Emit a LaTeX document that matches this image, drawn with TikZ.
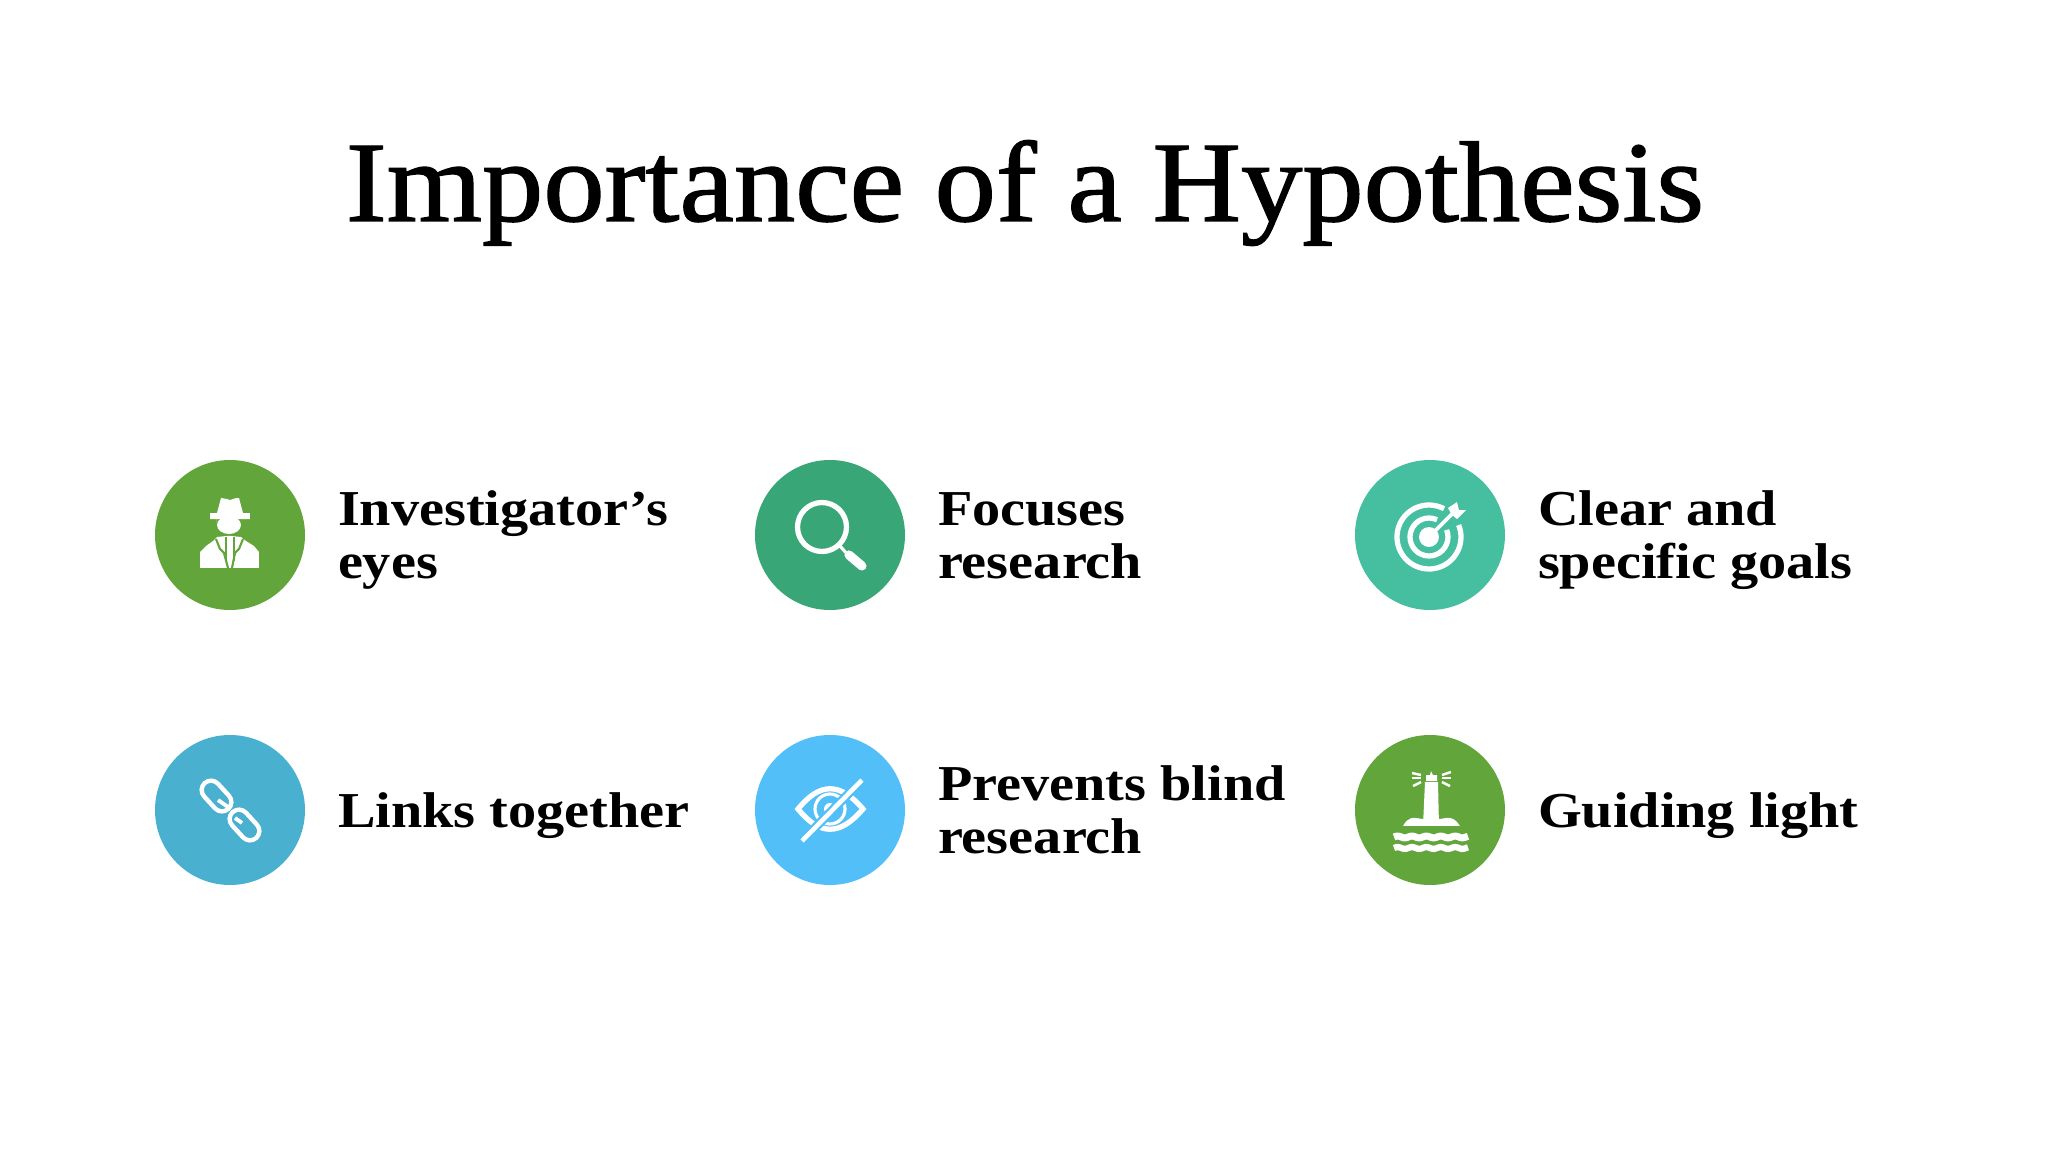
\documentclass[tikz,border=0pt]{standalone}
\usepackage{fontspec}
\usepackage{tikz}
\usetikzlibrary{positioning}
\setmainfont{Liberation Serif}
\newfontfamily\titlefont[FakeStretch=1.07,FakeBold=1.2]{Liberation Serif}
\newfontfamily\itemfont[FakeStretch=1.12]{Liberation Serif Bold}
\newcommand{\itemtop}{\rule{0pt}{13.2pt}}
\newcommand{\itembot}{\rule[-3.4pt]{0pt}{3.4pt}}
\definecolor{leafgreen}{HTML}{62A53A}
\definecolor{seagreen}{HTML}{38A676}
\definecolor{tealgreen}{HTML}{45BFA0}
\definecolor{linkblue}{HTML}{4AB0CF}
\definecolor{skyblue}{HTML}{52BFF8}

\begin{document}
\begin{tikzpicture}[
    iconnode/.style={circle, minimum size=1.5cm, inner sep=0pt, outer sep=0pt},
    itemnode/.style={align=left, inner sep=0pt, outer sep=0pt, font=\itemfont\fontsize{14.3pt}{15.2pt}\selectfont},
    icon/.style={x=0.01cm, y=-0.01cm, white, fill=white},
    thickline/.style={draw=white, line width=1.5pt},
    thinline/.style={draw=white, line width=0.7pt}]

        \useasboundingbox[fill=white] (0,0) rectangle (20.48,-11.52);

        \node[font=\titlefont\fontsize{32.6pt}{36pt}\selectfont, inner sep=0pt] (title) at (10.25,-1.93) {Importance of a Hypothesis};

        \node[iconnode, fill=leafgreen] (detective) at (2.30,-5.35) {};
        \node[iconnode, fill=seagreen] (search) [right=4.5cm of detective] {};
        \node[iconnode, fill=tealgreen] (target) [right=4.5cm of search] {};
        \node[iconnode, fill=linkblue] (chain) [below=1.25cm of detective] {};
        \node[iconnode, fill=skyblue] (eye) [right=4.5cm of chain] {};
        \node[iconnode, fill=leafgreen] (lighthouse) [right=4.5cm of eye] {};

        \node[itemnode] (detectivetext) [right=0.33cm of detective] {\itemtop Investigator’s\\eyes\itembot};
        \node[itemnode] (searchtext) [right=0.33cm of search] {\itemtop Focuses\\research\itembot};
        \node[itemnode] (targettext) [right=0.33cm of target] {\itemtop Clear and\\specific goals\itembot};
        \node[itemnode] (chaintext) [right=0.33cm of chain] {\itemtop Links together\itembot};
        \node[itemnode] (eyetext) [right=0.33cm of eye] {\itemtop Prevents blind\\research\itembot};
        \node[itemnode] (lighthousetext) [right=0.33cm of lighthouse] {\itemtop Guiding light\itembot};

        % detective
        \begin{scope}[shift={(detective.center)}, icon]
            \fill (-14,-12) -- (-13,-22) -- (-9,-37) -- (-3,-36) -- (0,-35) -- (6,-37) -- (9,-37) -- (13,-22) -- (20,-22) -- (20,-16) -- (-20,-16) -- (-20,-22) -- (-13,-22) -- cycle;
            \fill (-1,-10) ellipse (12 and 9);
            \fill (-30,33) -- (-30,17) -- (-24,11) -- (-17,6) -- (-13,2) -- (-3,1) -- (1,1) -- (11,2) -- (16,6) -- (24,11) -- (29,17) -- (29,33) -- cycle;
            \draw[draw=leafgreen, line width=0.6pt] (-14,4) -- (-10,14) -- (-6,18) -- (-2,33);
            \draw[draw=leafgreen, line width=0.6pt] (13,4) -- (9,14) -- (5,18) -- (2,33);
            \draw[draw=leafgreen, line width=0.6pt] (-4,2) -- (-4,26);
            \draw[draw=leafgreen, line width=0.6pt] (4,2) -- (4,26);
        \end{scope}

        % search
        \begin{scope}[shift={(search.center)}, icon]
            \draw[thickline] (-8,-8) circle (24.5);
            \draw[thickline, line width=0.9pt] (10,11) -- (18,20);
            \draw[thickline, line width=2.6pt, line cap=round] (19,20) -- (32,31);
        \end{scope}

        % target
        \begin{scope}[shift={(target.center)}, icon]
            \draw[thickline] (-1,2) ++(-22:32) arc[start angle=-22, end angle=298, radius=32];
            \draw[thickline] (-1,2) ++(-22:19) arc[start angle=-22, end angle=295, radius=19];
            \fill (-1,2) circle (10);
            \draw[thickline, line width=1.1pt] (-1,2) -- (23,-22);
            \fill (18,-27) -- (27,-33) -- (29,-25) -- (36,-25) -- (27,-16) -- (22,-20) -- cycle;
        \end{scope}

        % chain
        \begin{scope}[shift={(chain.center)}, icon]
            \draw[draw=white, line width=6.6pt, line cap=round] (-19,-20) -- (-8,-8);
            \draw[draw=linkblue, line width=4pt, line cap=round] (-19,-20) -- (-8,-8);
            \draw[draw=white, line width=6.6pt, line cap=round] (9,9) -- (20,21);
            \draw[draw=linkblue, line width=4pt, line cap=round] (9,9) -- (20,21);
            \draw[thickline, line width=1.1pt] (-12,-10) -- (-2,-3);
            \draw[thickline, line width=1.1pt] (5,8) -- (12,13);
        \end{scope}

        % eye
        \begin{scope}[shift={(eye.center)}, icon]
            \draw[thickline] (-32,-1) .. controls (-10,-28) and (10,-28) .. (33,-1) .. controls (10,26) and (-10,26) .. (-32,-1) -- cycle;
            \draw[thinline, line width=0.9pt] (0,-1) circle (15);
            \fill (0,-1) circle (6);
            \draw[draw=skyblue, line width=2.6pt] (-28,31) -- (32,-30);
            \draw[thickline, line width=1.3pt] (-28,31) -- (32,-30);
        \end{scope}

        % lighthouse
        \begin{scope}[shift={(lighthouse.center)}, icon]
            \fill (-5,-28) -- (8,-28) -- (9,16) -- (-7,16) -- cycle;
            \fill (-4,-29) -- (-4,-35) -- (0,-35) -- (1,-39) -- (3,-35) -- (7,-35) -- (7,-29) -- cycle;
            \fill (-27,16) .. controls (-22,7) and (-18,7) .. (-8,9) -- (10,9) .. controls (20,7) and (24,7) .. (30,16) -- cycle;
            \draw[thinline] (-18,-37) -- (-9,-35);
            \draw[thinline] (-18,-32) -- (-9,-32);
            \draw[thinline] (-17,-24) -- (-9,-28);
            \draw[thinline] (12,-35) -- (21,-38);
            \draw[thinline] (12,-32) -- (21,-32);
            \draw[thinline] (12,-28) -- (20,-24);
            \draw[thickline, line width=2pt] plot[domain=-36:38, samples=60] (\x,{27+0.9*sin(\x*25)});
            \draw[thickline, line width=1.8pt] plot[domain=-36:38, samples=60] (\x,{38+0.9*sin(\x*25)});
        \end{scope}

        \end{tikzpicture}
\end{document}
